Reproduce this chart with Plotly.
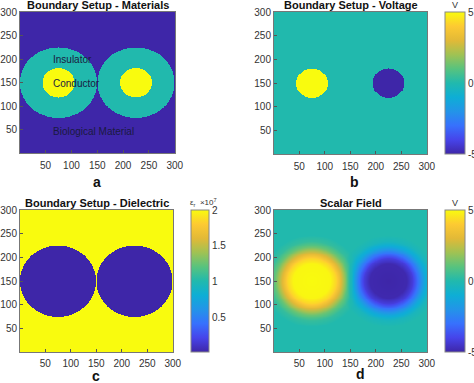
import numpy as np
import plotly.graph_objects as go

# ---- geometry / data ----
grid_n = 300
centers_x = [75, 225]
center_y = 150
insulator_radius = 75
conductor_radius = 31
material_values = {"bio": 0, "insulator": 1, "conductor": 2}
conductor_voltages = [5, -5]
eps_bio = 2.0e7
eps_insulator = 1.0e5
# radial profile of the scalar field (fraction of conductor voltage)
profile_r = [0, 36, 48, 60, 72, 84, 97]
profile_f = [1.0, 0.98, 0.84, 0.55, 0.25, 0.07, 0.0]
tick_vals = [50, 100, 150, 200, 250, 300]
cbar_v_ticks = [-5, 0, 5]
cbar_eps_ticks = [0.5e7, 1.0e7, 1.5e7, 2.0e7]
cbar_eps_labels = ["0.5", "1", "1.5", "2"]

parula = [
    [0.00, "rgb(62,38,168)"],
    [0.10, "rgb(70,68,234)"],
    [0.20, "rgb(55,113,253)"],
    [0.30, "rgb(35,148,232)"],
    [0.40, "rgb(14,174,213)"],
    [0.50, "rgb(33,185,173)"],
    [0.60, "rgb(88,195,126)"],
    [0.70, "rgb(160,194,83)"],
    [0.80, "rgb(226,185,55)"],
    [0.90, "rgb(253,202,50)"],
    [1.00, "rgb(249,251,14)"],
]

xs = np.arange(1, grid_n + 1)
ys = np.arange(1, grid_n + 1)
X, Y = np.meshgrid(xs, ys)

mat = np.full(X.shape, material_values["bio"], dtype=float)
volt = np.zeros(X.shape)
eps = np.full(X.shape, eps_bio)
field = np.zeros(X.shape)
for cx, v in zip(centers_x, conductor_voltages):
    r = np.sqrt((X - cx) ** 2 + (Y - center_y) ** 2)
    ins = r <= insulator_radius
    cond = r <= conductor_radius
    mat[ins] = material_values["insulator"]
    mat[cond] = material_values["conductor"]
    volt[cond] = v
    eps[ins] = eps_insulator
    field += v * np.interp(r, profile_r, profile_f)
field = np.round(field, 3)

font_family = "Liberation Sans, Arial, sans-serif"
W, H = 474, 383

def dom_x(a, b):
    return [a / W, b / W]

def dom_y(top, bottom):
    return [1 - bottom / H, 1 - top / H]

panels = [
    dict(x=(20, 175), y=(12, 153)),
    dict(x=(274, 427), y=(12, 154)),
    dict(x=(20, 173), y=(210, 352)),
    dict(x=(274, 427), y=(210, 352)),
]

fig = go.Figure()

fig.add_trace(go.Heatmap(z=mat, x=xs, y=ys, colorscale=parula, zmin=0, zmax=2,
                         showscale=False, xaxis="x", yaxis="y", hoverinfo="skip"))

cb_common = dict(thickness=20, thicknessmode="pixels", lenmode="fraction",
                 outlinewidth=1, outlinecolor="#888", ticks="",
                 tickfont=dict(size=10, color="#333", family=font_family),
                 xanchor="left", yanchor="top", xpad=0, ypad=0)

fig.add_trace(go.Heatmap(z=volt, x=xs, y=ys, colorscale=parula, zmin=-5, zmax=5,
                         xaxis="x2", yaxis="y2", hoverinfo="skip",
                         colorbar=dict(cb_common, x=445 / W, y=1 - 12 / H, len=142 / H,
                                       tickvals=cbar_v_ticks, ticktext=["-5", "0", "5"])))

fig.add_trace(go.Heatmap(z=eps, x=xs, y=ys, colorscale=parula, zmin=eps_insulator, zmax=eps_bio,
                         xaxis="x3", yaxis="y3", hoverinfo="skip",
                         colorbar=dict(cb_common, x=191 / W, y=1 - 210 / H, len=142 / H,
                                       thickness=18,
                                       tickvals=cbar_eps_ticks, ticktext=cbar_eps_labels)))

fig.add_trace(go.Heatmap(z=field, x=xs, y=ys, colorscale=parula, zmin=-5, zmax=5,
                         xaxis="x4", yaxis="y4", hoverinfo="skip",
                         colorbar=dict(cb_common, x=445 / W, y=1 - 210 / H, len=142 / H,
                                       tickvals=cbar_v_ticks, ticktext=["-5", "0", "5"])))

axis_common = dict(range=[0.5, 300.5], tickvals=tick_vals, ticks="inside", ticklen=3,
                   tickcolor="#555", showline=True, linecolor="#777", linewidth=1,
                   mirror=True, showgrid=False, zeroline=False,
                   tickfont=dict(size=10, color="#333", family=font_family))

layout = dict(width=W, height=H, margin=dict(l=0, r=0, t=0, b=0, autoexpand=False),
              paper_bgcolor="white", plot_bgcolor="white", showlegend=False)
for i, p in enumerate(panels):
    sfx = "" if i == 0 else str(i + 1)
    layout["xaxis" + sfx] = dict(axis_common, domain=dom_x(*p["x"]), anchor="y" + sfx,
                                 ticklabelstandoff=3 if i < 2 else 2)
    layout["yaxis" + sfx] = dict(axis_common, domain=dom_y(*p["y"]), anchor="x" + sfx)
fig.update_layout(**layout)

titles = ["Boundary Setup - Materials", "Boundary Setup - Voltage",
          "Boundary Setup - Dielectric", "Scalar Field"]
letters = ["a", "b", "c", "d"]
letter_pos = [(97, 182), (354, 182), (96, 376), (360, 374)]
for i, p in enumerate(panels):
    cx = (p["x"][0] + p["x"][1]) / 2
    fig.add_annotation(text="<b>%s</b>" % titles[i], x=cx / W, y=1 - (p["y"][0] - 7) / H,
                       xref="paper", yref="paper", xanchor="center", yanchor="middle",
                       showarrow=False,
                       font=dict(size=11, color="#111", family=font_family))
    lx, ly = letter_pos[i]
    fig.add_annotation(text="<b>%s</b>" % letters[i], x=lx / W, y=1 - ly / H,
                       xref="paper", yref="paper", xanchor="center", yanchor="middle",
                       showarrow=False,
                       font=dict(size=14, color="#111", family=font_family))

# material labels
for txt, yv in [("Insulator", 200), ("Conductor", 149), ("Biological Material", 47)]:
    fig.add_annotation(text=txt, x=60, y=yv, xref="x", yref="y", xanchor="left",
                       yanchor="middle", showarrow=False,
                       font=dict(size=10, color="#1a1a40", family=font_family))

# colorbar titles
for yy in (5, 203):
    fig.add_annotation(text="V", x=455 / W, y=1 - yy / H, xref="paper", yref="paper",
                       xanchor="center", yanchor="middle", showarrow=False,
                       font=dict(size=9, color="#333", family=font_family))
fig.add_annotation(text="ε<sub>r</sub>  ×10<sup>7</sup>", x=203 / W, y=1 - 202 / H,
                   xref="paper", yref="paper", xanchor="center", yanchor="middle",
                   showarrow=False,
                   font=dict(size=8, color="#333", family=font_family))

fig.write_html("out.html", config={"displayModeBar": False},
               post_script="document.body.style.margin='0px';document.body.style.overflow='hidden';")
